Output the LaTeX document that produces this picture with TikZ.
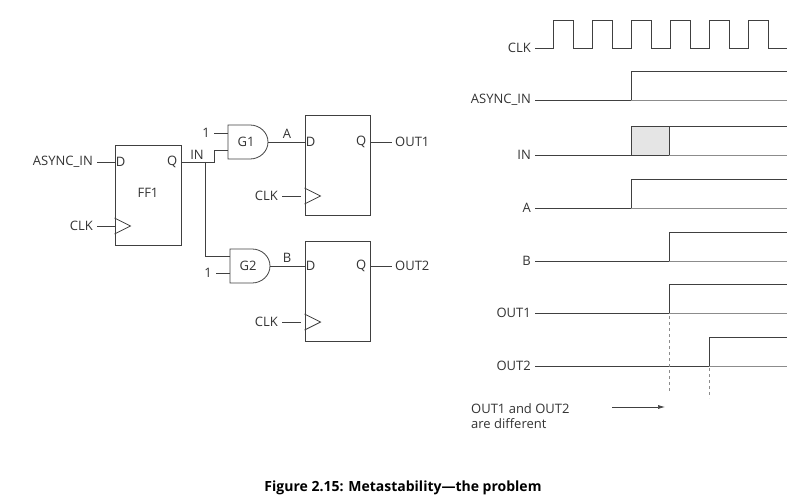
\documentclass[tikz,border=0pt]{standalone}
\usepackage{fontspec}
\setmainfont{Open Sans}
\usetikzlibrary{arrows.meta, positioning}

\begin{document}
\begin{tikzpicture}[x=1pt, y=-1pt,
    wire/.style={draw=black!75, line width=0.8pt},
    ghost/.style={draw=black!45, line width=0.7pt},
    ff/.style={rectangle, draw=black!75, line width=0.8pt, minimum width=65pt, minimum height=100pt, inner sep=0pt},
    lbl/.style={font=\fontsize{13}{15}\selectfont, text=black!80, inner sep=1pt},
    sig/.style={lbl, anchor=east, inner xsep=4pt},
    arrow/.style={-{Latex[length=7pt,width=4pt]}, draw=black!75, line width=0.7pt}
]
\useasboundingbox (0,0) rectangle (806,500);

% Circuit: flip-flops
\node[ff, minimum width=66pt] (ff1) at (148,195.5) {};
\node[ff] (ff2) at (337.5,165) {};
\node[ff] (ff3) at (337.5,291) {};
\node[lbl] at (148,193) {FF1};
\foreach \f/\dy/\cy in {ff1/162/226, ff2/142/196, ff3/266/322} {
  \node[lbl, anchor=west] at (\f.west |- 0,\dy) {D};
  \node[lbl, anchor=east, inner xsep=4pt] at (\f.east |- 0,\dy) {Q};
  \draw[wire] (\f.west |- 0,\cy-8) -- ++(16,8) -- ++(-16,8);
}

% Circuit: gates
\foreach \g/\x/\y in {G1/228/142, G2/230/266} {
  \draw[wire] (\x+22,\y-17) -- (\x,\y-17) -- (\x,\y+17) -- (\x+22,\y+17) arc (90:-90:18 and 17);
  \node[lbl] at (\x+18,\y) {\g};
}

% Circuit: inputs
\node[sig] (asyncin) at (97,162) {ASYNC\_IN};
\node[sig] (clk1) at (97,226) {CLK};
\node[sig] (clk2) at (282,196) {CLK};
\node[sig] (clk3) at (282,322) {CLK};
\draw[wire] (asyncin.east) -- (ff1.west |- asyncin);
\foreach \c in {clk1, clk2, clk3} \draw[wire] (\c.east) -- ++(19,0);
\node[sig] (one1) at (214,133) {1};
\node[sig] (one2) at (216,273) {1};
\draw[wire] (one1.east) -- (228,133);
\draw[wire] (one2.east) -- (230,273);

% Circuit: nets
\coordinate (jn) at (205,162);
\draw[wire] (ff1.east |- jn) -- (214,162) -- (214,150) -- (228,150);
\draw[wire] (jn) -- (205,256) -- (230,256);
\node[lbl, anchor=south] at (197,161) {IN};
\draw[wire] (268,142) -- (ff2.west |- 0,142);
\draw[wire] (270,266) -- (ff3.west |- 0,266);
\node[lbl, anchor=south] at (287,140) {A};
\node[lbl, anchor=south] at (287,264) {B};
\node[lbl, anchor=west, inner xsep=3pt] (out1) at (392,142) {OUT1};
\node[lbl, anchor=west, inner xsep=3pt] (out2) at (392,266) {OUT2};
\draw[wire] (ff2.east |- out1) -- (out1.west);
\draw[wire] (ff3.east |- out2) -- (out2.west);

% Timing diagram
\node[sig] (tclk) at (535,48) {CLK};
\draw[wire] (tclk.east) -- (553,48)
  \foreach \i in {0,...,5} { -- (553+39*\i,48) -- (553+39*\i,20) -- (573+39*\i,20) -- (573+39*\i,48) -- (592+39*\i,48) }
  -- (787,48);
\foreach \n/\lo/\t in {ASYNC\_IN/100/631, A/208/631, B/261/669, OUT1/313/669, OUT2/366/709} {
  \node[sig] (s) at (535,\lo) {\n};
  \draw[wire] (s.east) -- (\t,\lo) -- (\t,\lo-29) -- (787,\lo-29);
  \draw[ghost] (\t,\lo) -- (787,\lo);
}
\node[sig] (sin) at (535,155) {IN};
\filldraw[wire, fill=black!10] (631,155) rectangle (669,126);
\draw[wire] (sin.east) -- (631,155);
\draw[wire] (669,126) -- (787,126);
\draw[ghost] (669,155) -- (787,155);
\draw[ghost, dashed] (669,316) -- (669,392);
\draw[ghost, dashed] (709,368) -- (709,398);

\node[lbl, anchor=west, align=left] (note) at (470,416) {OUT1 and OUT2\\are different};
\coordinate (tip) at (665,407);
\draw[arrow] (612,407) -- (tip);

\node[font=\bfseries\fontsize{14}{16}\selectfont] at (403,488) {Figure 2.15: Metastability—the problem};
\end{tikzpicture}
\end{document}
